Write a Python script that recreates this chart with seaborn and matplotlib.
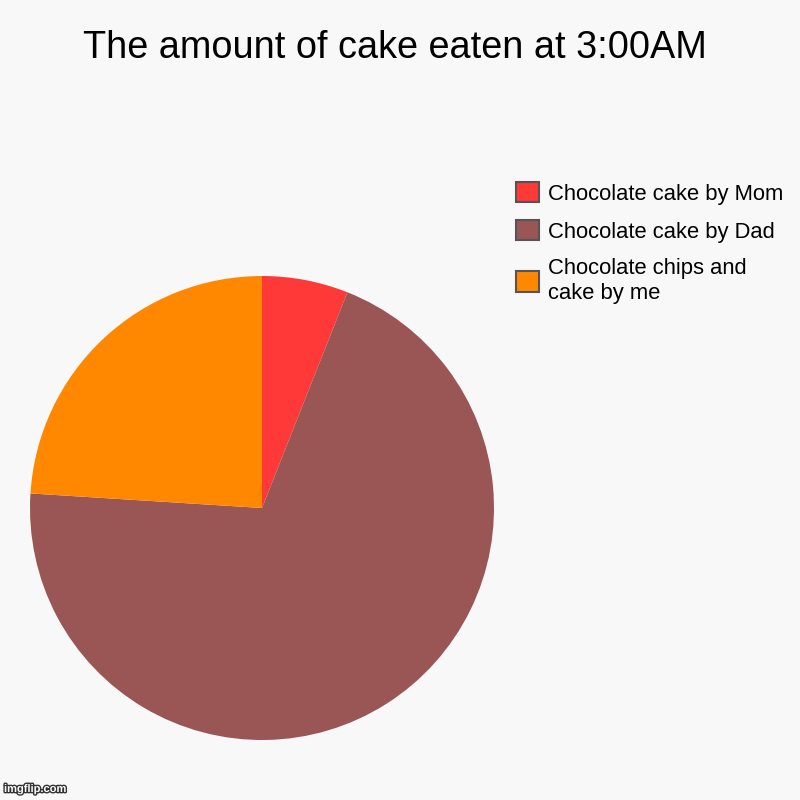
import matplotlib.pyplot as plt
import matplotlib.patheffects as pe
import seaborn as sns

# Data
labels = ["Chocolate cake by Mom", "Chocolate cake by Dad", "Chocolate chips and\ncake by me"]
values = [6, 70, 24]
colors = ["#ff3838", "#9a5555", "#ff8800"]

sns.set_theme(style="white")
plt.rcParams["font.family"] = ["Liberation Sans", "DejaVu Sans"]

bg = "#f8f8f8"
fig = plt.figure(figsize=(8, 8), dpi=100, facecolor=bg)
ax = fig.add_axes([30 / 800, 60 / 800, 464 / 800, 464 / 800])
ax.set_facecolor(bg)

wedges, _ = ax.pie(values, colors=colors, startangle=90, counterclock=False,
                   wedgeprops={"linewidth": 0})
ax.set_xlim(-1, 1)
ax.set_ylim(-1, 1)
ax.set_aspect("equal")
ax.axis("off")

fig.text(395 / 800, 1 - 48 / 800, "The amount of cake eaten at 3:00AM",
         ha="center", va="center", fontsize=27.3, color="#000000")

leg = fig.legend(wedges, labels, loc="upper left",
                 bbox_to_anchor=(516 / 800, 1 - 182 / 800),
                 frameon=False, fontsize=15.8, handlelength=1.05,
                 handleheight=1.05, handletextpad=0.4, labelspacing=0.7,
                 borderpad=0, borderaxespad=0)
for h in leg.legend_handles:
    h.set_edgecolor("#555555")
    h.set_linewidth(1.5)
for t in leg.get_texts():
    t.set_color("black")
    t.set_linespacing(1.25)

fig.text(4 / 800, 6 / 800, "imgflip.com", ha="left", va="bottom",
         fontsize=8, color="white", fontweight="bold",
         path_effects=[pe.withStroke(linewidth=2, foreground="#333333")])

fig.savefig("out.png", dpi=100, facecolor=bg)
